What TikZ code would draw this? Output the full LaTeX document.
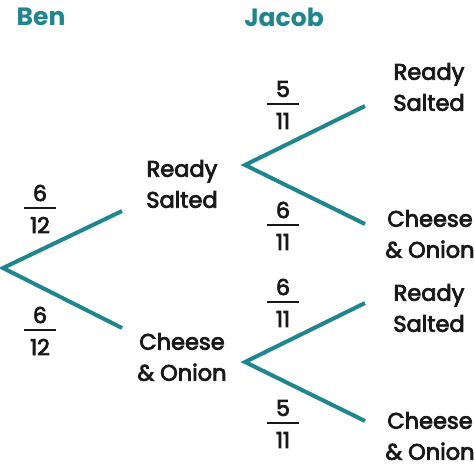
\documentclass[tikz,border=0pt]{standalone}
\usepackage{fontspec}
\setmainfont{Poppins}
\newfontfamily\medfont{Poppins}[FakeBold=3.5]
\definecolor{teal1}{RGB}{31,133,142}
\definecolor{txt}{RGB}{25,25,25}
\tikzset{
  branch/.style={draw=teal1,line width=4pt,line join=miter},
  lbl/.style={text=txt,align=center,inner sep=0pt,font=\medfont\fontsize{22.5}{31}\selectfont},
  head/.style={text=teal1,inner sep=0pt,font=\fontsize{25}{30}\selectfont\bfseries},
  dig/.style={text=txt,inner sep=0pt,font=\medfont\fontsize{22}{25}\selectfont},
  fracbar/.style={draw=txt,line width=1.5pt}
}
\newcommand{\frc}[5]{%
  \coordinate (#1b) at (#2,#3);
  \node[dig] (#1n) at (#2,#3-15) {#4};
  \node[dig] (#1d) at (#2,#3+17) {#5};
  \draw[fracbar] ([xshift=-16pt]#1b) -- ([xshift=16pt]#1b);
}
\begin{document}
\begin{tikzpicture}[x=1pt,y=-1pt]
\useasboundingbox[fill=white] (0,0) rectangle (474,467);
% headers
\node[head] (ben) at (41,17) {Ben};
\node[head] (jacob) at (284,17) {Jacob};
% tree coordinates
\coordinate (r) at (3,268);
\coordinate (u) at (122,211);
\coordinate (l) at (122,328);
\coordinate (s1) at (245,165);
\coordinate (s1u) at (365,106);
\coordinate (s1l) at (365,224);
\coordinate (s2) at (245,362);
\coordinate (s2u) at (365,303);
\coordinate (s2l) at (365,421);
\draw[branch] (u) -- (r) -- (l);
\draw[branch] (s1u) -- (s1) -- (s1l);
\draw[branch] (s2u) -- (s2) -- (s2l);
% labels
\node[lbl] (rs1) at (182,184) {Ready\\Salted};
\node[lbl] (co1) at (182,357) {Cheese\\\& Onion};
\node[lbl] (rs2) at (429,87) {Ready\\Salted};
\node[lbl] (co2) at (430,234) {Cheese\\\& Onion};
\node[lbl] (rs3) at (429,308) {Ready\\Salted};
\node[lbl] (co3) at (430,436) {Cheese\\\& Onion};
% fractions
\frc{fa}{40}{208}{6}{12}
\frc{fb}{40}{330}{6}{12}
\frc{fc}{283}{104}{5}{11}
\frc{fd}{283}{225}{6}{11}
\frc{fe}{283}{302}{6}{11}
\frc{ff}{283}{423}{5}{11}
\end{tikzpicture}
\end{document}
